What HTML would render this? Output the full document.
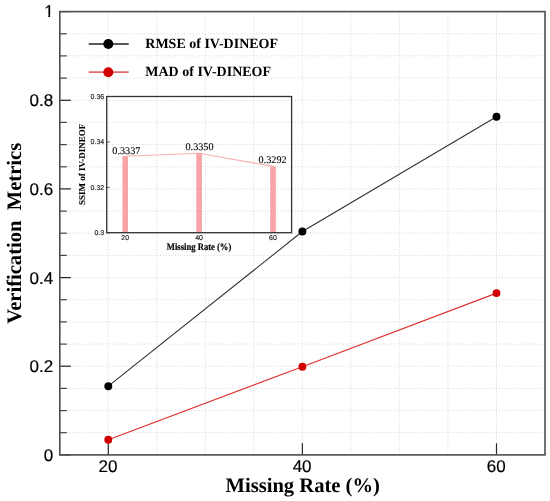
<!DOCTYPE html><html><head><meta charset="utf-8"><style>html,body{margin:0;padding:0;background:#fff;}svg{display:block;text-rendering:geometricPrecision}</style></head><body>
<svg width="550" height="501" viewBox="0 0 550 501">
<defs><clipPath id="c1"><rect x="30" y="0" width="30" height="15"/><rect x="48.3" y="15" width="1.8" height="4"/></clipPath></defs>
<rect width="550" height="501" fill="#fff"/>
<g stroke="#d4d4d4" stroke-width="1" stroke-dasharray="1 2"><line x1="60.8" y1="432.7" x2="544.0" y2="432.7"/><line x1="60.8" y1="410.6" x2="544.0" y2="410.6"/><line x1="60.8" y1="388.4" x2="544.0" y2="388.4"/><line x1="60.8" y1="366.2" x2="544.0" y2="366.2"/><line x1="60.8" y1="344.1" x2="544.0" y2="344.1"/><line x1="60.8" y1="321.9" x2="544.0" y2="321.9"/><line x1="60.8" y1="299.7" x2="544.0" y2="299.7"/><line x1="60.8" y1="277.6" x2="544.0" y2="277.6"/><line x1="60.8" y1="255.4" x2="544.0" y2="255.4"/><line x1="60.8" y1="233.2" x2="544.0" y2="233.2"/><line x1="60.8" y1="211.1" x2="544.0" y2="211.1"/><line x1="60.8" y1="188.9" x2="544.0" y2="188.9"/><line x1="60.8" y1="166.8" x2="544.0" y2="166.8"/><line x1="60.8" y1="144.6" x2="544.0" y2="144.6"/><line x1="60.8" y1="122.4" x2="544.0" y2="122.4"/><line x1="60.8" y1="100.3" x2="544.0" y2="100.3"/><line x1="60.8" y1="78.1" x2="544.0" y2="78.1"/><line x1="60.8" y1="55.9" x2="544.0" y2="55.9"/><line x1="60.8" y1="33.8" x2="544.0" y2="33.8"/><line x1="108.3" y1="12.6" x2="108.3" y2="453.9"/><line x1="156.8" y1="12.6" x2="156.8" y2="453.9"/><line x1="205.3" y1="12.6" x2="205.3" y2="453.9"/><line x1="253.8" y1="12.6" x2="253.8" y2="453.9"/><line x1="302.4" y1="12.6" x2="302.4" y2="453.9"/><line x1="350.9" y1="12.6" x2="350.9" y2="453.9"/><line x1="399.4" y1="12.6" x2="399.4" y2="453.9"/><line x1="447.9" y1="12.6" x2="447.9" y2="453.9"/><line x1="496.5" y1="12.6" x2="496.5" y2="453.9"/></g>
<g stroke="#2a2a2a" stroke-width="1.2"><line x1="59.8" y1="454.9" x2="70.8" y2="454.9" stroke="#222"/><line x1="59.8" y1="432.7" x2="66.8" y2="432.7" stroke="#444"/><line x1="59.8" y1="410.6" x2="66.8" y2="410.6" stroke="#444"/><line x1="59.8" y1="388.4" x2="66.8" y2="388.4" stroke="#444"/><line x1="59.8" y1="366.2" x2="70.8" y2="366.2" stroke="#222"/><line x1="59.8" y1="344.1" x2="66.8" y2="344.1" stroke="#444"/><line x1="59.8" y1="321.9" x2="66.8" y2="321.9" stroke="#444"/><line x1="59.8" y1="299.7" x2="66.8" y2="299.7" stroke="#444"/><line x1="59.8" y1="277.6" x2="70.8" y2="277.6" stroke="#222"/><line x1="59.8" y1="255.4" x2="66.8" y2="255.4" stroke="#444"/><line x1="59.8" y1="233.2" x2="66.8" y2="233.2" stroke="#444"/><line x1="59.8" y1="211.1" x2="66.8" y2="211.1" stroke="#444"/><line x1="59.8" y1="188.9" x2="70.8" y2="188.9" stroke="#222"/><line x1="59.8" y1="166.8" x2="66.8" y2="166.8" stroke="#444"/><line x1="59.8" y1="144.6" x2="66.8" y2="144.6" stroke="#444"/><line x1="59.8" y1="122.4" x2="66.8" y2="122.4" stroke="#444"/><line x1="59.8" y1="100.3" x2="70.8" y2="100.3" stroke="#222"/><line x1="59.8" y1="78.1" x2="66.8" y2="78.1" stroke="#444"/><line x1="59.8" y1="55.9" x2="66.8" y2="55.9" stroke="#444"/><line x1="59.8" y1="33.8" x2="66.8" y2="33.8" stroke="#444"/><line x1="59.8" y1="11.6" x2="70.8" y2="11.6" stroke="#222"/><line x1="108.3" y1="454.9" x2="108.3" y2="443.3"/><line x1="302.4" y1="454.9" x2="302.4" y2="443.3"/><line x1="496.5" y1="454.9" x2="496.5" y2="443.3"/></g>
<rect x="59.8" y="11.6" width="485.2" height="443.3" fill="none" stroke="#4e4e4e" stroke-width="1.6"/>
<g font-family="Liberation Sans, Arial, sans-serif" font-size="17" fill="#000" stroke="#000" stroke-width="0.2"><text x="53.2" y="461.0" text-anchor="end">0</text><text x="53.2" y="372.3" text-anchor="end">0.2</text><text x="53.2" y="283.7" text-anchor="end">0.4</text><text x="53.2" y="195.0" text-anchor="end">0.6</text><text x="53.2" y="106.4" text-anchor="end">0.8</text><text x="53.7" y="17.3" text-anchor="end" clip-path="url(#c1)">1</text><text x="108.0" y="472.4" text-anchor="middle">20</text><text x="302.1" y="472.4" text-anchor="middle">40</text><text x="496.2" y="472.4" text-anchor="middle">60</text></g>
<text x="225.5" y="491.8" font-family="Liberation Serif, Times New Roman, serif" font-weight="bold" font-size="20.6" fill="#000">Missing Rate (%)</text>
<text transform="translate(21.4,233.3) rotate(-90)" text-anchor="middle" font-family="Liberation Serif, Times New Roman, serif" font-weight="bold" font-size="20.6" fill="#000" xml:space="preserve">Verification  Metrics</text>
<polyline points="125.2,156.2 199.1,153.2 273.0,166.4" fill="none" stroke="#f7b0b0" stroke-width="1.1"/>
<rect x="122.4" y="156.2" width="5.6" height="76.5" fill="#f7a3a8"/>
<rect x="196.3" y="153.2" width="5.6" height="79.5" fill="#f7a3a8"/>
<rect x="270.2" y="166.4" width="5.6" height="66.3" fill="#f7a3a8"/>
<g stroke="#555" stroke-width="1"><line x1="106.7" y1="232.7" x2="109.7" y2="232.7"/><line x1="106.7" y1="187.3" x2="109.7" y2="187.3"/><line x1="106.7" y1="141.9" x2="109.7" y2="141.9"/><line x1="106.7" y1="96.5" x2="109.7" y2="96.5"/></g>
<rect x="106.7" y="96.5" width="184.9" height="136.2" fill="none" stroke="#333" stroke-width="1.3"/>
<g font-family="Liberation Sans, Arial, sans-serif" font-size="7" fill="#222" stroke="#222" stroke-width="0.15"><text x="104.2" y="235.2" text-anchor="end">0.3</text><text x="104.2" y="189.8" text-anchor="end">0.32</text><text x="104.2" y="144.4" text-anchor="end">0.34</text><text x="104.2" y="99.0" text-anchor="end">0.36</text><text x="125.2" y="239.6" text-anchor="middle">20</text><text x="199.1" y="239.6" text-anchor="middle">40</text><text x="273.0" y="239.6" text-anchor="middle">60</text></g>
<text x="199.1" y="249.6" text-anchor="middle" textLength="64.5" lengthAdjust="spacingAndGlyphs" font-family="Liberation Serif, Times New Roman, serif" font-weight="bold" font-size="9.9" fill="#000" stroke="#000" stroke-width="0.2">Missing Rate (%)</text>
<text transform="translate(85.1,164.45) rotate(-90)" text-anchor="middle" font-family="Liberation Serif, Times New Roman, serif" font-weight="bold" font-size="9" fill="#000" stroke="#000" stroke-width="0.12">SSIM of IV-DINEOF</text>
<g font-family="Liberation Serif, Times New Roman, serif" font-size="10.2" fill="#000" stroke="#222" stroke-width="0.12"><text x="112.3" y="153.7">0.3337</text><text x="185.5" y="149.5">0.3350</text><text x="258.6" y="163.1">0.3292</text></g>
<polyline points="108.3,386.2 302.4,231.5 496.5,116.7" fill="none" stroke="#303030" stroke-width="1.05"/>
<polyline points="108.3,439.8 302.4,366.7 496.5,293.1" fill="none" stroke="#e03030" stroke-width="1.2"/>
<circle cx="108.3" cy="386.2" r="3.95" fill="#000"/>
<circle cx="302.4" cy="231.5" r="3.95" fill="#000"/>
<circle cx="496.5" cy="116.7" r="3.95" fill="#000"/>
<circle cx="108.3" cy="439.8" r="3.95" fill="#d00000"/>
<circle cx="302.4" cy="366.7" r="3.95" fill="#d00000"/>
<circle cx="496.5" cy="293.1" r="3.95" fill="#d00000"/>
<line x1="88.7" y1="44" x2="128.7" y2="44" stroke="#222" stroke-width="1.3"/>
<circle cx="108.3" cy="44" r="5" fill="#000"/>
<line x1="88.7" y1="72.2" x2="128.7" y2="72.2" stroke="#e86a6a" stroke-width="1.8"/>
<circle cx="108.3" cy="72.2" r="5" fill="#d00000"/>
<g font-family="Liberation Serif, Times New Roman, serif" font-weight="bold" font-size="14" fill="#000"><text x="145.3" y="47.8">RMSE of IV-DINEOF</text><text x="145.3" y="75.7">MAD of IV-DINEOF</text></g>
</svg></body></html>
